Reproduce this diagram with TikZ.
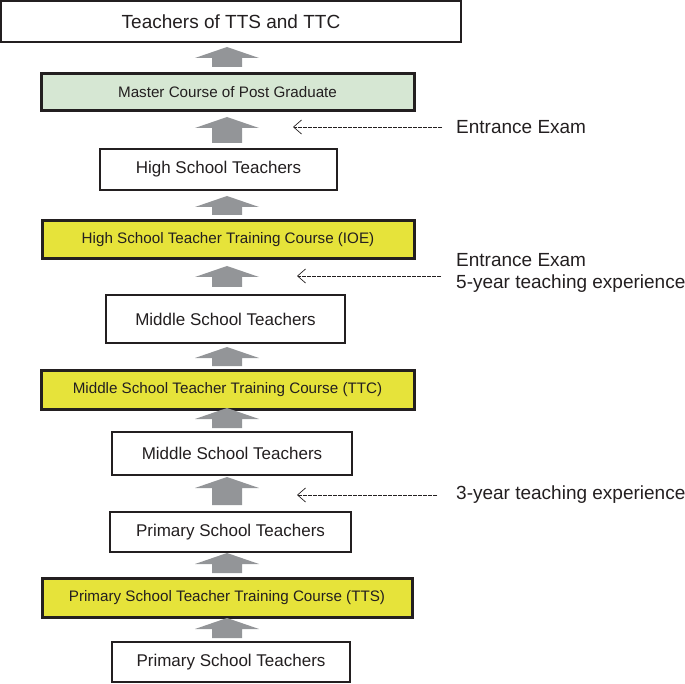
\documentclass[tikz,border=0pt]{standalone}
\usepackage{fontspec}
\setmainfont{Liberation Sans}
\usetikzlibrary{arrows.meta}
\definecolor{txt}{HTML}{231F20}
\definecolor{arrowgray}{HTML}{939598}
\definecolor{boxgreen}{HTML}{D6E7D3}
\definecolor{boxyellow}{HTML}{E6E33A}
\tikzset{
  thinbox/.style={draw=txt, line width=1.3pt, fill=white, inner sep=0pt, text=txt},
  thickbox/.style={draw=txt, line width=3pt, inner sep=0pt, text=txt},
  bigfont/.style={font=\fontsize{19}{22}\selectfont},
  midfont/.style={font=\fontsize{17}{20}\selectfont},
  smallfont/.style={font=\fontsize{15.2}{18}\selectfont},
  blockarrow/.style={fill=arrowgray, draw=none},
  dasharrow/.style={draw=txt, line width=0.6pt, dash pattern=on 1.6pt off 0.9pt, -{Straight Barb[length=8pt,width=14pt,line width=0.7pt]}},
  sidetext/.style={anchor=west, inner sep=0pt, text=txt, font=\fontsize{19}{22}\selectfont, align=left}
}
\newcommand{\blockup}[2]{% top y, bottom y
  \fill[blockarrow] (195,{#1+11}) -- (227,#1) -- (259,{#1+11}) -- (242,{#1+11}) -- (242,#2) -- (212,#2) -- (212,{#1+11}) -- cycle;}
\begin{document}
\begin{tikzpicture}[x=1pt,y=-1pt]
\useasboundingbox (0,0) rectangle (685,684);
% boxes
\node[thinbox, bigfont, minimum width=460, minimum height=41] (n1) at (231,21.5) {Teachers of TTS and TTC};
\node[thickbox, smallfont, fill=boxgreen, minimum width=373, minimum height=37] (n2) at (227.5,92.5) {Master Course of Post Graduate};
\node[thinbox, midfont, minimum width=237, minimum height=41] (n3) at (218.5,169.5) {High School Teachers};
\node[thickbox, smallfont, fill=boxyellow, minimum width=372, minimum height=38] (n4) at (228,240) {High School Teacher Training Course (IOE)};
\node[thinbox, midfont, minimum width=239, minimum height=48] (n5) at (225.5,319) {Middle School Teachers};
\node[thickbox, smallfont, fill=boxyellow, minimum width=373, minimum height=39] (n6) at (227.5,389.5) {Middle School Teacher Training Course (TTC)};
\node[thinbox, midfont, minimum width=240, minimum height=43] (n7) at (232,453.5) {Middle School Teachers};
\node[thinbox, midfont, minimum width=241, minimum height=40] (n8) at (230.5,532) {Primary School Teachers};
\node[thickbox, smallfont, fill=boxyellow, minimum width=370, minimum height=39] (n9) at (227,597.5) {Primary School Teacher Training Course (TTS)};
\node[thinbox, midfont, minimum width=238, minimum height=40] (n10) at (231,662) {Primary School Teachers};
% block arrows
\blockup{47}{67}
\blockup{117}{143}
\blockup{196}{215}
\blockup{266}{287}
\blockup{347}{366}
\blockup{408}{428}
\blockup{477}{505}
\blockup{553}{573}
\blockup{618}{638}
% side notes
\node[sidetext] (t1) at (456,127) {Entrance Exam};
\node[sidetext] (t2) at (456,273) {Entrance Exam\\5-year teaching experience};
\node[sidetext] (t3) at (456,495) {3-year teaching experience};
\coordinate (s1) at (442,127);
\coordinate (e1) at (293,127);
\coordinate (s2) at (441,276);
\coordinate (e2) at (297,276);
\coordinate (s3) at (437,495);
\coordinate (e3) at (297,495);
\draw[dasharrow] (s1) -- (e1);
\draw[dasharrow] (s2) -- (e2);
\draw[dasharrow] (s3) -- (e3);
\end{tikzpicture}
\end{document}
